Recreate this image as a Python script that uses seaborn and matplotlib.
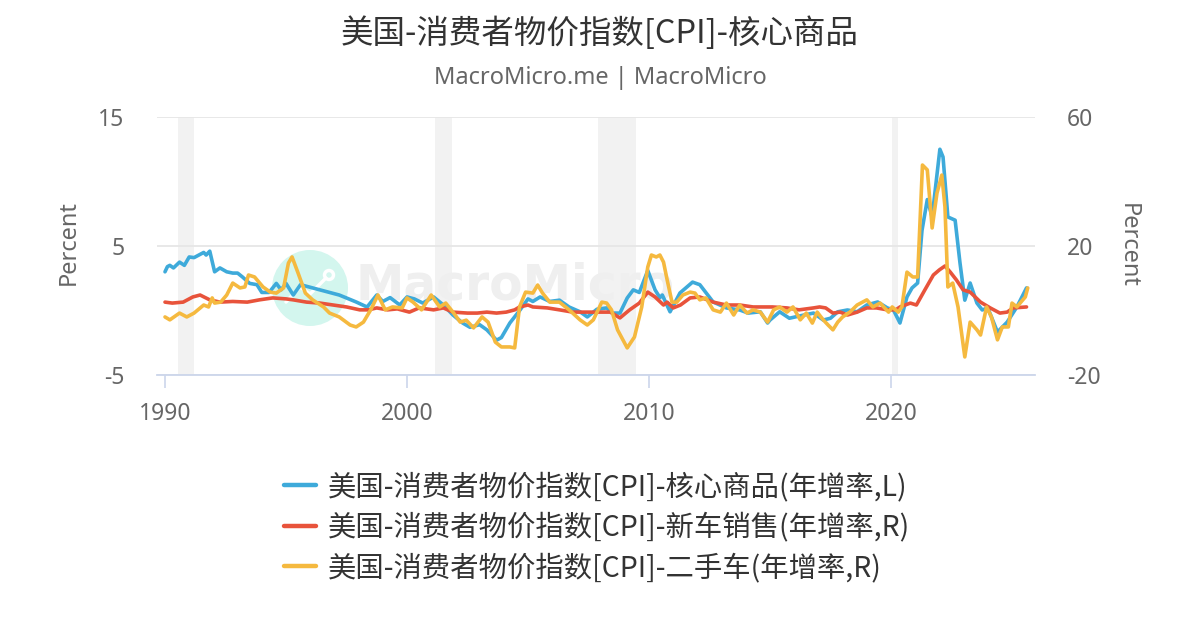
import numpy as np
import pandas as pd
import matplotlib
matplotlib.use("Agg")
import matplotlib.pyplot as plt
import seaborn as sns
from matplotlib.patches import Circle
from matplotlib.lines import Line2D

# ---------------- data ----------------
title = "美国-消费者物价指数[CPI]-核心商品"
subtitle = "MacroMicro.me | MacroMicro"
label_core = "美国-消费者物价指数[CPI]-核心商品(年增率,L)"
label_new = "美国-消费者物价指数[CPI]-新车销售(年增率,R)"
label_used = "美国-消费者物价指数[CPI]-二手车(年增率,R)"
axis_label = "Percent"

core_t = [1990.0, 1990.1, 1990.2, 1990.35, 1990.6, 1990.8, 1991.0, 1991.2, 1991.4, 1991.6,
          1991.7, 1991.85, 1992.05, 1992.27, 1992.55, 1992.8, 1993.0, 1993.2, 1993.5, 1993.8,
          1994.0, 1994.3, 1994.6, 1994.8, 1995.0, 1995.3, 1995.6, 1996.0, 1996.4, 1996.8,
          1997.2, 1997.5, 1997.9, 1998.35, 1998.75, 1999.0, 1999.3, 1999.7, 2000.0, 2000.3,
          2000.65, 2001.1, 2001.5, 2001.9, 2002.3, 2002.6, 2003.0, 2003.3, 2003.7, 2003.9,
          2004.25, 2004.67, 2005.0, 2005.2, 2005.5, 2005.9, 2006.3, 2006.7, 2007.15, 2007.45,
          2007.85, 2008.25, 2008.5, 2008.8, 2009.1, 2009.35, 2009.6, 2009.95, 2010.25, 2010.45,
          2010.55, 2010.87, 2011.28, 2011.8, 2012.1, 2012.65, 2013.2, 2013.75, 2014.1, 2014.6,
          2014.9, 2015.0, 2015.4, 2015.8, 2016.4, 2016.8, 2017.2, 2017.5, 2017.8, 2018.2,
          2018.6, 2019.0, 2019.45, 2019.85, 2020.1, 2020.37, 2020.66, 2020.87, 2021.1, 2021.28,
          2021.5, 2021.7, 2022.02, 2022.15, 2022.35, 2022.65, 2022.85, 2023.05, 2023.27, 2023.55,
          2023.77, 2024.0, 2024.4, 2024.8, 2025.2, 2025.6]
core_v = [3.0, 3.4, 3.5, 3.3, 3.75, 3.5, 4.15, 4.1, 4.3, 4.5,
          4.3, 4.6, 3.0, 3.3, 3.0, 2.9, 2.9, 2.6, 2.1, 2.0,
          1.4, 1.4, 2.1, 1.6, 2.1, 1.2, 2.0, 1.8, 1.6, 1.4,
          1.2, 0.97, 0.66, 0.27, 1.2, 0.7, 1.0, 0.43, 1.05, 0.9,
          0.58, 1.05, 0.43, -0.35, -0.97, -1.3, -1.1, -1.5, -2.3, -2.1,
          -0.97, 0.04, 0.9, 0.7, 1.05, 0.7, 0.8, 0.27, -0.1, -0.5,
          0.1, 0.2, -0.2, -0.2, 0.97, 1.6, 1.4, 3.1, 1.6, 1.0,
          1.2, -0.1, 1.36, 2.2, 2.0, 0.66, 0.2, 0.04, -0.2, -0.1,
          -0.97, -0.74, -0.1, -0.6, -0.35, -0.2, -0.74, -0.6, -0.1, 0.04,
          -0.1, 0.43, 0.66, 0.2, 0.04, -0.97, 1.05, 1.75, 2.13, 6.2,
          8.6, 7.25, 12.5, 11.9, 7.25, 7.0, 3.7, 0.8, 2.13, 0.58,
          0.04, 0.2, -1.67, -0.9, 0.27, 1.75]

new_t = [1990.0, 1990.3, 1990.75, 1991.15, 1991.45, 1991.85, 1992.27, 1992.8, 1993.4, 1993.9,
         1994.45, 1995.0, 1995.3, 1995.85, 1996.4, 1996.95, 1997.5, 1998.05, 1998.4, 1998.75,
         1999.2, 1999.6, 2000.1, 2000.5, 2001.1, 2001.5, 2001.9, 2002.5, 2002.9, 2003.3,
         2003.7, 2004.1, 2004.45, 2004.65, 2005.0, 2005.2, 2005.8, 2006.3, 2006.85, 2007.45,
         2008.0, 2008.4, 2008.8, 2009.2, 2009.6, 2009.95, 2010.25, 2010.6, 2010.75, 2011.0,
         2011.3, 2011.7, 2012.1, 2012.65, 2013.2, 2013.75, 2014.3, 2014.9, 2015.1, 2015.7,
         2016.2, 2016.8, 2017.05, 2017.3, 2017.6, 2017.9, 2018.2, 2018.6, 2019.0, 2019.4,
         2019.85, 2020.2, 2020.37, 2020.8, 2021.05, 2021.4, 2021.75, 2022.0, 2022.23, 2022.45,
         2022.7, 2022.98, 2023.27, 2023.7, 2024.1, 2024.5, 2024.8, 2025.05, 2025.6]
new_v = [2.6, 2.3, 2.6, 4.2, 4.8, 3.3, 2.6, 2.8, 2.6, 3.3,
         3.9, 3.6, 3.3, 2.6, 2.3, 1.7, 1.1, 0.2, 0.2, 0.8,
         0.2, 0.5, -0.5, 0.8, 0.2, 0.8, -0.5, -0.8, -0.8, -0.5,
         -0.8, -0.5, 0.2, 1.1, 1.7, 1.1, 0.8, 0.2, -0.5, -0.5,
         -0.5, -0.5, -2.3, 0.2, 2.3, 5.7, 4.2, 1.7, 2.6, 0.8,
         1.7, 3.9, 4.2, 2.6, 1.7, 1.7, 1.1, 1.1, 1.1, 0.8,
         0.2, 0.8, 1.1, 0.8, -0.8, -0.5, -1.4, -0.5, 0.8, 0.8,
         0.2, 0.2, 1.1, 2.3, 1.7, 6.4, 11.0, 12.6, 13.8, 11.9,
         9.5, 6.4, 5.7, 2.6, 0.8, -0.8, -0.5, 0.8, 1.1]

used_t = [1990.0, 1990.2, 1990.6, 1990.9, 1991.2, 1991.6, 1991.8, 1991.95, 1992.05, 1992.3,
          1992.55, 1992.8, 1993.1, 1993.3, 1993.45, 1993.7, 1994.05, 1994.35, 1994.6, 1994.9,
          1995.1, 1995.25, 1995.5, 1995.8, 1996.1, 1996.55, 1996.8, 1997.2, 1997.65, 1997.9,
          1998.2, 1998.5, 1998.8, 1999.1, 1999.4, 1999.8, 2000.0, 2000.25, 2000.6, 2001.0,
          2001.35, 2001.6, 2001.9, 2002.2, 2002.45, 2002.75, 2003.1, 2003.35, 2003.65, 2003.9,
          2004.25, 2004.45, 2004.65, 2004.9, 2005.2, 2005.4, 2005.6, 2005.9, 2006.3, 2006.7,
          2007.15, 2007.45, 2007.7, 2008.05, 2008.25, 2008.45, 2008.7, 2009.1, 2009.4, 2009.7,
          2009.95, 2010.1, 2010.3, 2010.45, 2010.6, 2010.75, 2010.95, 2011.15, 2011.4, 2011.7,
          2011.9, 2012.1, 2012.35, 2012.65, 2012.95, 2013.2, 2013.5, 2013.75, 2014.05, 2014.3,
          2014.6, 2014.9, 2015.15, 2015.4, 2015.7, 2015.95, 2016.25, 2016.5, 2016.75, 2016.95,
          2017.2, 2017.4, 2017.6, 2017.8, 2018.0, 2018.3, 2018.6, 2019.0, 2019.25, 2019.55,
          2019.9, 2020.05, 2020.3, 2020.45, 2020.66, 2020.9, 2021.1, 2021.3, 2021.5, 2021.7,
          2021.9, 2022.1, 2022.23, 2022.35, 2022.55, 2022.77, 2023.05, 2023.27, 2023.55, 2023.7,
          2023.95, 2024.15, 2024.4, 2024.6, 2024.85, 2025.0, 2025.2, 2025.55, 2025.65]
used_v = [-2.0, -2.9, -0.8, -2.0, -0.8, 1.7, 1.1, 3.9, 2.3, 2.6,
          4.8, 8.5, 7.0, 7.3, 11.0, 10.4, 7.3, 5.7, 5.4, 7.0,
          14.7, 16.6, 11.6, 5.4, 3.3, 1.1, -0.8, -2.0, -4.5, -5.1,
          -3.6, 0.2, 4.8, 0.2, 1.1, 0.8, 3.9, 2.6, 0.2, 4.8,
          1.1, 2.3, -0.5, -3.6, -3.0, -5.4, -2.0, -3.6, -9.8, -11.3,
          -11.3, -11.6, 1.1, 5.7, 5.4, 7.9, 5.4, 2.6, 2.6, 0.2,
          -2.9, -4.5, -2.9, 2.6, 2.3, 0.2, -6.0, -11.6, -8.2, 1.1,
          13.5, 17.2, 16.6, 17.2, 15.0, 9.5, 2.6, 2.6, 4.8, 5.7,
          5.4, 3.3, 3.9, 0.2, -0.5, 2.3, -1.4, 1.7, -0.8, 0.2,
          -0.5, -3.6, 0.2, 1.1, -0.5, 1.1, -2.9, -0.8, -3.9, -0.5,
          -2.9, -4.5, -6.0, -3.6, -2.0, -0.5, 1.7, 3.3, 1.1, 2.3,
          -0.5, 1.1, -0.5, 1.1, 11.9, 10.4, 10.4, 45.1, 43.6, 25.6,
          36.4, 42.0, 32.1, 7.3, 8.5, 1.1, -14.4, -3.6, -6.0, -7.6,
          1.1, -2.0, -9.1, -5.1, -5.1, 2.3, 1.1, 4.2, 7.0]

recessions = [(1990.55, 1991.2), (2001.17, 2001.88), (2007.88, 2009.48), (2020.06, 2020.3)]
x_ticks = [1990, 2000, 2010, 2020]
left_ticks = [-5, 5, 15]
right_ticks = [-20, 20, 60]

c_core, c_new, c_used = "#3eaada", "#e8533b", "#f5b93f"

# ---------------- style ----------------
sns.set_theme(style="white")
plt.rcParams["font.family"] = ["Noto Sans CJK SC", "DejaVu Sans"]
LATIN = ["Noto Sans", "DejaVu Sans"]
CJK = ["Noto Sans CJK SC", "DejaVu Sans"]

W, H = 1200, 630
fig = plt.figure(figsize=(W / 100, H / 100), dpi=100)
L, R, T, B = 157, 1035, 117, 375
ax = fig.add_axes([L / W, 1 - B / H, (R - L) / W, (B - T) / H])
ax.set_facecolor("none")

df_core = pd.DataFrame({"year": core_t, "value": core_v})
df_new = pd.DataFrame({"year": new_t, "value": new_v})
df_used = pd.DataFrame({"year": used_t, "value": used_v})

for a, b in recessions:
    ax.axvspan(a, b, color="#f2f2f2", lw=0, zorder=0.2)

# watermark
circ = Circle((310 / 100, (H - 288) / 100), 0.38, transform=fig.dpi_scale_trans,
              color="#d3f6ee", lw=0, zorder=0.6)
ax.add_patch(circ)
ax.plot([286 / W, 300 / W, 310 / W, 326 / W], [1 - 302 / H, 1 - 287 / H, 1 - 294 / H, 1 - 278 / H],
        transform=fig.transFigure, color="white", lw=2.5, zorder=0.7)
ax.add_patch(Circle((329 / 100, (H - 275) / 100), 0.045, transform=fig.dpi_scale_trans,
                    facecolor="none", edgecolor="white", lw=2.5, zorder=0.7))
ax.text(355 / W, 1 - 286 / H, "MacroMicro", transform=fig.transFigure, fontsize=35,
        fontweight="bold", color="#efefef", ha="left", va="center", zorder=0.8,
        family="DejaVu Sans")

sns.lineplot(data=df_core, x="year", y="value", ax=ax, color=c_core, lw=2.6,
             sort=False, estimator=None, label=label_core, zorder=2)

ax2 = ax.twinx()
ax2.set_facecolor("none")
sns.lineplot(data=df_new, x="year", y="value", ax=ax2, color=c_new, lw=2.6,
             sort=False, estimator=None, label=label_new, zorder=2)
sns.lineplot(data=df_used, x="year", y="value", ax=ax2, color=c_used, lw=2.6,
             sort=False, estimator=None, label=label_used, zorder=3)

for a_ in (ax, ax2):
    lg = a_.get_legend()
    if lg is not None:
        lg.remove()

x0 = 1990 + (L - 165) / 24.2
x1 = 1990 + (R - 165) / 24.2
ax.set_xlim(x0, x1)
ax.set_ylim(-5, 15)
ax2.set_ylim(-20, 60)
ax.set_xticks(x_ticks)
ax.set_xticklabels([str(t) for t in x_ticks])
ax.set_yticks(left_ticks)
ax.set_yticklabels([str(t) for t in left_ticks])
ax2.set_yticks(right_ticks)
ax2.set_yticklabels([str(t) for t in right_ticks])

ax.yaxis.grid(True, color="#e6e6e6", lw=1.3, zorder=0.5)
ax.xaxis.grid(False)
ax2.grid(False)
ax.set_axisbelow(True)

for a_ in (ax, ax2):
    for s in ("top", "left", "right", "bottom"):
        a_.spines[s].set_visible(False)
ax.spines["bottom"].set_visible(True)
ax.spines["bottom"].set_color("#ccd6eb")
ax.spines["bottom"].set_linewidth(1.3)

ax.tick_params(axis="x", length=9.5, width=1.2, color="#ccd6eb", pad=10,
               labelcolor="#666666", labelsize=16.5, bottom=True)
ax.tick_params(axis="y", length=0, pad=23.5, labelcolor="#666666", labelsize=16.5)
ax2.tick_params(axis="y", length=0, pad=23, labelcolor="#666666", labelsize=16.5)
for lab in ax.get_xticklabels() + ax.get_yticklabels() + ax2.get_yticklabels():
    lab.set_family(LATIN)

ax.set_xlabel("")
ax.set_ylabel("")
ax2.set_ylabel("")
fig.text(69 / W, 1 - 243 / H, axis_label, rotation=90, ha="center", va="center",
         fontsize=17, color="#666666", family=LATIN)
fig.text(1128 / W, 1 - 245 / H, axis_label, rotation=270, ha="center", va="center",
         fontsize=17, color="#666666", family=LATIN)

fig.text(0.5, 1 - 33 / H, title, ha="center", va="center", fontsize=23.4, color="#333333",
         family=CJK)
fig.text(0.5, 1 - 78 / H, subtitle, ha="center", va="center", fontsize=17, color="#666666",
         family=LATIN)

handles = [Line2D([], [], color=c_core, lw=3.2),
           Line2D([], [], color=c_new, lw=3.2),
           Line2D([], [], color=c_used, lw=3.2)]
leg = fig.legend(handles, [label_core, label_new, label_used], loc="upper center",
                 bbox_to_anchor=(597 / W, 1 - 472 / H), frameon=False, ncol=1,
                 prop={"family": CJK, "size": 20.4},
                 handlelength=1.1, handletextpad=0.42, labelspacing=0.37,
                 borderaxespad=0, borderpad=0)
for t in leg.get_texts():
    t.set_color("#333333")

fig.savefig("out.png", dpi=100)
